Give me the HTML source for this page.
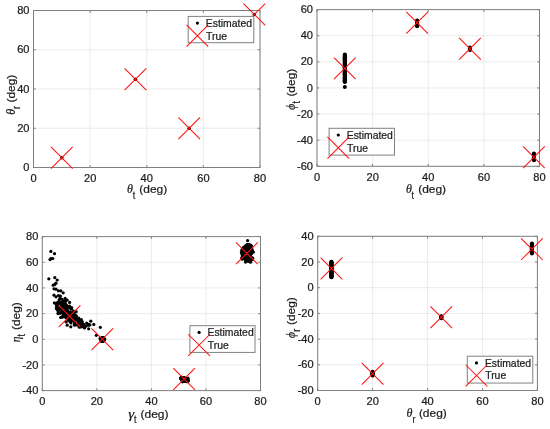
<!DOCTYPE html>
<html><head><meta charset="utf-8"><title>Figure</title>
<style>
html,body{margin:0;padding:0;background:#fff;}
svg{display:block;font-family:"Liberation Sans",sans-serif;}
text{stroke:#1c1c1c;stroke-width:0.22px}
.g{font-family:"Liberation Serif",serif;font-style:italic}
</style></head><body>
<svg width="550" height="429" viewBox="0 0 550 429">
<rect width="550" height="429" fill="#fff"/>
<g stroke="#ebebeb" stroke-width="1" fill="none">
<line x1="33.5" y1="10.5" x2="33.5" y2="167.5"/>
<line x1="90.12" y1="10.5" x2="90.12" y2="167.5"/>
<line x1="146.75" y1="10.5" x2="146.75" y2="167.5"/>
<line x1="203.38" y1="10.5" x2="203.38" y2="167.5"/>
<line x1="260" y1="10.5" x2="260" y2="167.5"/>
<line x1="33.5" y1="167.5" x2="260" y2="167.5"/>
<line x1="33.5" y1="128.25" x2="260" y2="128.25"/>
<line x1="33.5" y1="89" x2="260" y2="89"/>
<line x1="33.5" y1="49.75" x2="260" y2="49.75"/>
<line x1="33.5" y1="10.5" x2="260" y2="10.5"/>
</g>
<g stroke="#808080" stroke-width="1" fill="none">
<rect x="33.5" y="10.5" width="226.5" height="157"/>
<line x1="33.5" y1="167.5" x2="33.5" y2="165.2"/>
<line x1="33.5" y1="10.5" x2="33.5" y2="12.8"/>
<line x1="90.12" y1="167.5" x2="90.12" y2="165.2"/>
<line x1="90.12" y1="10.5" x2="90.12" y2="12.8"/>
<line x1="146.75" y1="167.5" x2="146.75" y2="165.2"/>
<line x1="146.75" y1="10.5" x2="146.75" y2="12.8"/>
<line x1="203.38" y1="167.5" x2="203.38" y2="165.2"/>
<line x1="203.38" y1="10.5" x2="203.38" y2="12.8"/>
<line x1="260" y1="167.5" x2="260" y2="165.2"/>
<line x1="260" y1="10.5" x2="260" y2="12.8"/>
<line x1="33.5" y1="167.5" x2="35.8" y2="167.5"/>
<line x1="260" y1="167.5" x2="257.7" y2="167.5"/>
<line x1="33.5" y1="128.25" x2="35.8" y2="128.25"/>
<line x1="260" y1="128.25" x2="257.7" y2="128.25"/>
<line x1="33.5" y1="89" x2="35.8" y2="89"/>
<line x1="260" y1="89" x2="257.7" y2="89"/>
<line x1="33.5" y1="49.75" x2="35.8" y2="49.75"/>
<line x1="260" y1="49.75" x2="257.7" y2="49.75"/>
<line x1="33.5" y1="10.5" x2="35.8" y2="10.5"/>
<line x1="260" y1="10.5" x2="257.7" y2="10.5"/>
</g>
<g font-size="10" fill="#1c1c1c">
<text transform="translate(33.5,181.6) scale(1.11,1)" text-anchor="middle">0</text>
<text transform="translate(90.12,181.6) scale(1.11,1)" text-anchor="middle">20</text>
<text transform="translate(146.75,181.6) scale(1.11,1)" text-anchor="middle">40</text>
<text transform="translate(203.38,181.6) scale(1.11,1)" text-anchor="middle">60</text>
<text transform="translate(260,181.6) scale(1.11,1)" text-anchor="middle">80</text>
<text transform="translate(29.5,171.1) scale(1.11,1)" text-anchor="end">0</text>
<text transform="translate(29.5,131.85) scale(1.11,1)" text-anchor="end">20</text>
<text transform="translate(29.5,92.6) scale(1.11,1)" text-anchor="end">40</text>
<text transform="translate(29.5,53.35) scale(1.11,1)" text-anchor="end">60</text>
<text transform="translate(29.5,14.1) scale(1.11,1)" text-anchor="end">80</text>
</g>
<g transform="translate(127,193.3)" fill="#1c1c1c"><text class="g" font-size="11.5" transform="scale(1.05,1)">θ</text><text transform="translate(5.7,5.8) scale(0.86,1)" font-size="10.3">t</text><text transform="translate(12.3,0) scale(1.085,1)" font-size="11">(deg)</text></g>
<g transform="translate(15,114.8) rotate(-90)" fill="#1c1c1c"><text class="g" font-size="11.5" transform="scale(1.05,1)">θ</text><text transform="translate(5.8,5.3) scale(0.86,1)" font-size="10.3">r</text><text transform="translate(12.3,0) scale(1.085,1)" font-size="11">(deg)</text></g>
<g fill="#000">
<circle cx="61.81" cy="157.69" r="1.75"/>
<circle cx="135.43" cy="79.19" r="1.75"/>
<circle cx="189.22" cy="128.25" r="1.75"/>
<circle cx="254.34" cy="14.43" r="1.75"/>
</g>
<path d="M50.96 146.84L72.66 168.54M50.96 168.54L72.66 146.84M124.58 68.34L146.28 90.04M124.58 90.04L146.28 68.34M178.37 117.4L200.07 139.1M178.37 139.1L200.07 117.4M243.49 3.58L265.19 25.28M243.49 25.28L265.19 3.58" stroke="#ff1212" stroke-width="1.05" fill="none"/>
<rect x="188.2" y="16.4" width="65.6" height="26.3" fill="#fff" stroke="#808080" stroke-width="1"/>
<circle cx="197.4" cy="23.1" r="1.6" fill="#000"/>
<g font-size="10" fill="#1c1c1c"><text transform="translate(205.8,26.9) scale(1.04,1)">Estimated</text><text transform="translate(206.1,39.6) scale(1.04,1)">True</text></g>
<path d="M186.55 24.95L208.25 46.65M186.55 46.65L208.25 24.95" stroke="#ff1212" stroke-width="1.05" fill="none"/>
<g stroke="#ebebeb" stroke-width="1" fill="none">
<line x1="317" y1="9.6" x2="317" y2="166.3"/>
<line x1="372.62" y1="9.6" x2="372.62" y2="166.3"/>
<line x1="428.25" y1="9.6" x2="428.25" y2="166.3"/>
<line x1="483.88" y1="9.6" x2="483.88" y2="166.3"/>
<line x1="539.5" y1="9.6" x2="539.5" y2="166.3"/>
<line x1="317" y1="166.3" x2="539.5" y2="166.3"/>
<line x1="317" y1="140.18" x2="539.5" y2="140.18"/>
<line x1="317" y1="114.07" x2="539.5" y2="114.07"/>
<line x1="317" y1="87.95" x2="539.5" y2="87.95"/>
<line x1="317" y1="61.83" x2="539.5" y2="61.83"/>
<line x1="317" y1="35.72" x2="539.5" y2="35.72"/>
<line x1="317" y1="9.6" x2="539.5" y2="9.6"/>
</g>
<g stroke="#808080" stroke-width="1" fill="none">
<rect x="317" y="9.6" width="222.5" height="156.7"/>
<line x1="317" y1="166.3" x2="317" y2="164"/>
<line x1="317" y1="9.6" x2="317" y2="11.9"/>
<line x1="372.62" y1="166.3" x2="372.62" y2="164"/>
<line x1="372.62" y1="9.6" x2="372.62" y2="11.9"/>
<line x1="428.25" y1="166.3" x2="428.25" y2="164"/>
<line x1="428.25" y1="9.6" x2="428.25" y2="11.9"/>
<line x1="483.88" y1="166.3" x2="483.88" y2="164"/>
<line x1="483.88" y1="9.6" x2="483.88" y2="11.9"/>
<line x1="539.5" y1="166.3" x2="539.5" y2="164"/>
<line x1="539.5" y1="9.6" x2="539.5" y2="11.9"/>
<line x1="317" y1="166.3" x2="319.3" y2="166.3"/>
<line x1="539.5" y1="166.3" x2="537.2" y2="166.3"/>
<line x1="317" y1="140.18" x2="319.3" y2="140.18"/>
<line x1="539.5" y1="140.18" x2="537.2" y2="140.18"/>
<line x1="317" y1="114.07" x2="319.3" y2="114.07"/>
<line x1="539.5" y1="114.07" x2="537.2" y2="114.07"/>
<line x1="317" y1="87.95" x2="319.3" y2="87.95"/>
<line x1="539.5" y1="87.95" x2="537.2" y2="87.95"/>
<line x1="317" y1="61.83" x2="319.3" y2="61.83"/>
<line x1="539.5" y1="61.83" x2="537.2" y2="61.83"/>
<line x1="317" y1="35.72" x2="319.3" y2="35.72"/>
<line x1="539.5" y1="35.72" x2="537.2" y2="35.72"/>
<line x1="317" y1="9.6" x2="319.3" y2="9.6"/>
<line x1="539.5" y1="9.6" x2="537.2" y2="9.6"/>
</g>
<g font-size="10" fill="#1c1c1c">
<text transform="translate(317,181.3) scale(1.11,1)" text-anchor="middle">0</text>
<text transform="translate(372.62,181.3) scale(1.11,1)" text-anchor="middle">20</text>
<text transform="translate(428.25,181.3) scale(1.11,1)" text-anchor="middle">40</text>
<text transform="translate(483.88,181.3) scale(1.11,1)" text-anchor="middle">60</text>
<text transform="translate(539.5,181.3) scale(1.11,1)" text-anchor="middle">80</text>
<text transform="translate(313,169.9) scale(1.11,1)" text-anchor="end">-60</text>
<text transform="translate(313,143.78) scale(1.11,1)" text-anchor="end">-40</text>
<text transform="translate(313,117.67) scale(1.11,1)" text-anchor="end">-20</text>
<text transform="translate(313,91.55) scale(1.11,1)" text-anchor="end">0</text>
<text transform="translate(313,65.43) scale(1.11,1)" text-anchor="end">20</text>
<text transform="translate(313,39.32) scale(1.11,1)" text-anchor="end">40</text>
<text transform="translate(313,13.2) scale(1.11,1)" text-anchor="end">60</text>
</g>
<g transform="translate(405.9,192.7)" fill="#1c1c1c"><text class="g" font-size="11.5" transform="scale(1.05,1)">θ</text><text transform="translate(5.7,5.8) scale(0.86,1)" font-size="10.3">t</text><text transform="translate(12.3,0) scale(1.085,1)" font-size="11">(deg)</text></g>
<g transform="translate(294.6,110.3) rotate(-90)" fill="#1c1c1c"><text class="g" font-size="11.5" x="0.6">ϕ</text><text transform="translate(6.9,5.8) scale(0.86,1)" font-size="10.3">t</text><text transform="translate(13.7,0) scale(1.085,1)" font-size="11">(deg)</text></g>
<g fill="#000">
<circle cx="344.81" cy="82.07" r="2.0"/>
<circle cx="344.81" cy="81.61" r="2.0"/>
<circle cx="344.81" cy="81.14" r="2.0"/>
<circle cx="344.81" cy="80.67" r="2.0"/>
<circle cx="344.81" cy="80.21" r="2.0"/>
<circle cx="344.81" cy="79.74" r="2.0"/>
<circle cx="344.81" cy="79.27" r="2.0"/>
<circle cx="344.81" cy="78.8" r="2.0"/>
<circle cx="344.81" cy="78.34" r="2.0"/>
<circle cx="344.81" cy="77.87" r="2.0"/>
<circle cx="344.81" cy="77.4" r="2.0"/>
<circle cx="344.81" cy="76.94" r="2.0"/>
<circle cx="344.81" cy="76.47" r="2.0"/>
<circle cx="344.81" cy="76" r="2.0"/>
<circle cx="344.81" cy="75.54" r="2.0"/>
<circle cx="344.81" cy="75.07" r="2.0"/>
<circle cx="344.81" cy="74.6" r="2.0"/>
<circle cx="344.81" cy="74.13" r="2.0"/>
<circle cx="344.81" cy="73.67" r="2.0"/>
<circle cx="344.81" cy="73.2" r="2.0"/>
<circle cx="344.81" cy="72.73" r="2.0"/>
<circle cx="344.81" cy="72.27" r="2.0"/>
<circle cx="344.81" cy="71.8" r="2.0"/>
<circle cx="344.81" cy="71.33" r="2.0"/>
<circle cx="344.81" cy="70.87" r="2.0"/>
<circle cx="344.81" cy="70.4" r="2.0"/>
<circle cx="344.81" cy="69.93" r="2.0"/>
<circle cx="344.81" cy="69.46" r="2.0"/>
<circle cx="344.81" cy="69" r="2.0"/>
<circle cx="344.81" cy="68.53" r="2.0"/>
<circle cx="344.81" cy="68.06" r="2.0"/>
<circle cx="344.81" cy="67.6" r="2.0"/>
<circle cx="344.81" cy="67.13" r="2.0"/>
<circle cx="344.81" cy="66.66" r="2.0"/>
<circle cx="344.81" cy="66.2" r="2.0"/>
<circle cx="344.81" cy="65.73" r="2.0"/>
<circle cx="344.81" cy="65.26" r="2.0"/>
<circle cx="344.81" cy="64.79" r="2.0"/>
<circle cx="344.81" cy="64.33" r="2.0"/>
<circle cx="344.81" cy="63.86" r="2.0"/>
<circle cx="344.81" cy="63.39" r="2.0"/>
<circle cx="344.81" cy="62.93" r="2.0"/>
<circle cx="344.81" cy="62.46" r="2.0"/>
<circle cx="344.81" cy="61.99" r="2.0"/>
<circle cx="344.81" cy="61.53" r="2.0"/>
<circle cx="344.81" cy="61.06" r="2.0"/>
<circle cx="344.81" cy="60.59" r="2.0"/>
<circle cx="344.81" cy="60.12" r="2.0"/>
<circle cx="344.81" cy="59.66" r="2.0"/>
<circle cx="344.81" cy="59.19" r="2.0"/>
<circle cx="344.81" cy="58.72" r="2.0"/>
<circle cx="344.81" cy="58.26" r="2.0"/>
<circle cx="344.81" cy="57.79" r="2.0"/>
<circle cx="344.81" cy="57.32" r="2.0"/>
<circle cx="344.81" cy="56.86" r="2.0"/>
<circle cx="344.81" cy="56.39" r="2.0"/>
<circle cx="344.81" cy="55.92" r="2.0"/>
<circle cx="344.81" cy="55.45" r="2.0"/>
<circle cx="344.81" cy="54.99" r="2.0"/>
<circle cx="344.81" cy="54.52" r="2.0"/>
<circle cx="344.81" cy="87.1" r="2.0"/>
<circle cx="417.12" cy="26.18" r="2.0"/>
<circle cx="417.12" cy="25.66" r="2.0"/>
<circle cx="417.12" cy="25.14" r="2.0"/>
<circle cx="417.12" cy="24.62" r="2.0"/>
<circle cx="417.12" cy="24.09" r="2.0"/>
<circle cx="417.12" cy="23.57" r="2.0"/>
<circle cx="417.12" cy="23.05" r="2.0"/>
<circle cx="417.12" cy="22.53" r="2.0"/>
<circle cx="417.12" cy="22.01" r="2.0"/>
<circle cx="417.12" cy="21.48" r="2.0"/>
<circle cx="417.12" cy="20.96" r="2.0"/>
<circle cx="417.12" cy="20.44" r="2.0"/>
<circle cx="469.97" cy="49.95" r="2.0"/>
<circle cx="469.97" cy="49.61" r="2.0"/>
<circle cx="469.97" cy="49.28" r="2.0"/>
<circle cx="469.97" cy="48.94" r="2.0"/>
<circle cx="469.97" cy="48.61" r="2.0"/>
<circle cx="469.97" cy="48.27" r="2.0"/>
<circle cx="469.97" cy="47.94" r="2.0"/>
<circle cx="469.97" cy="47.6" r="2.0"/>
<circle cx="533.94" cy="160.29" r="2.0"/>
<circle cx="533.94" cy="159.77" r="2.0"/>
<circle cx="533.94" cy="159.25" r="2.0"/>
<circle cx="533.94" cy="158.73" r="2.0"/>
<circle cx="533.94" cy="158.2" r="2.0"/>
<circle cx="533.94" cy="157.68" r="2.0"/>
<circle cx="533.94" cy="157.16" r="2.0"/>
<circle cx="533.94" cy="156.64" r="2.0"/>
<circle cx="533.94" cy="156.11" r="2.0"/>
<circle cx="533.94" cy="155.59" r="2.0"/>
<circle cx="533.94" cy="155.07" r="2.0"/>
<circle cx="533.94" cy="154.55" r="2.0"/>
<circle cx="533.94" cy="154.03" r="2.0"/>
<circle cx="533.94" cy="153.5" r="2.0"/>
</g>
<path d="M333.96 57.51L355.66 79.21M333.96 79.21L355.66 57.51M406.27 11.81L427.98 33.51M406.27 33.51L427.98 11.81M459.12 37.93L480.82 59.63M459.12 59.63L480.82 37.93M523.09 146.31L544.79 168.01M523.09 168.01L544.79 146.31" stroke="#ff1212" stroke-width="1.05" fill="none"/>
<rect x="329.1" y="128.3" width="65.4" height="26.8" fill="#fff" stroke="#808080" stroke-width="1"/>
<circle cx="338.3" cy="135" r="1.6" fill="#000"/>
<g font-size="10" fill="#1c1c1c"><text transform="translate(346.7,138.8) scale(1.04,1)">Estimated</text><text transform="translate(347,151.5) scale(1.04,1)">True</text></g>
<path d="M327.45 136.85L349.15 158.55M327.45 158.55L349.15 136.85" stroke="#ff1212" stroke-width="1.05" fill="none"/>
<g stroke="#ebebeb" stroke-width="1" fill="none">
<line x1="42.3" y1="236.6" x2="42.3" y2="390.6"/>
<line x1="96.85" y1="236.6" x2="96.85" y2="390.6"/>
<line x1="151.4" y1="236.6" x2="151.4" y2="390.6"/>
<line x1="205.95" y1="236.6" x2="205.95" y2="390.6"/>
<line x1="260.5" y1="236.6" x2="260.5" y2="390.6"/>
<line x1="42.3" y1="390.6" x2="260.5" y2="390.6"/>
<line x1="42.3" y1="364.93" x2="260.5" y2="364.93"/>
<line x1="42.3" y1="339.27" x2="260.5" y2="339.27"/>
<line x1="42.3" y1="313.6" x2="260.5" y2="313.6"/>
<line x1="42.3" y1="287.93" x2="260.5" y2="287.93"/>
<line x1="42.3" y1="262.27" x2="260.5" y2="262.27"/>
<line x1="42.3" y1="236.6" x2="260.5" y2="236.6"/>
</g>
<g stroke="#808080" stroke-width="1" fill="none">
<rect x="42.3" y="236.6" width="218.2" height="154"/>
<line x1="42.3" y1="390.6" x2="42.3" y2="388.3"/>
<line x1="42.3" y1="236.6" x2="42.3" y2="238.9"/>
<line x1="96.85" y1="390.6" x2="96.85" y2="388.3"/>
<line x1="96.85" y1="236.6" x2="96.85" y2="238.9"/>
<line x1="151.4" y1="390.6" x2="151.4" y2="388.3"/>
<line x1="151.4" y1="236.6" x2="151.4" y2="238.9"/>
<line x1="205.95" y1="390.6" x2="205.95" y2="388.3"/>
<line x1="205.95" y1="236.6" x2="205.95" y2="238.9"/>
<line x1="260.5" y1="390.6" x2="260.5" y2="388.3"/>
<line x1="260.5" y1="236.6" x2="260.5" y2="238.9"/>
<line x1="42.3" y1="390.6" x2="44.6" y2="390.6"/>
<line x1="260.5" y1="390.6" x2="258.2" y2="390.6"/>
<line x1="42.3" y1="364.93" x2="44.6" y2="364.93"/>
<line x1="260.5" y1="364.93" x2="258.2" y2="364.93"/>
<line x1="42.3" y1="339.27" x2="44.6" y2="339.27"/>
<line x1="260.5" y1="339.27" x2="258.2" y2="339.27"/>
<line x1="42.3" y1="313.6" x2="44.6" y2="313.6"/>
<line x1="260.5" y1="313.6" x2="258.2" y2="313.6"/>
<line x1="42.3" y1="287.93" x2="44.6" y2="287.93"/>
<line x1="260.5" y1="287.93" x2="258.2" y2="287.93"/>
<line x1="42.3" y1="262.27" x2="44.6" y2="262.27"/>
<line x1="260.5" y1="262.27" x2="258.2" y2="262.27"/>
<line x1="42.3" y1="236.6" x2="44.6" y2="236.6"/>
<line x1="260.5" y1="236.6" x2="258.2" y2="236.6"/>
</g>
<g font-size="10" fill="#1c1c1c">
<text transform="translate(42.3,405.1) scale(1.11,1)" text-anchor="middle">0</text>
<text transform="translate(96.85,405.1) scale(1.11,1)" text-anchor="middle">20</text>
<text transform="translate(151.4,405.1) scale(1.11,1)" text-anchor="middle">40</text>
<text transform="translate(205.95,405.1) scale(1.11,1)" text-anchor="middle">60</text>
<text transform="translate(260.5,405.1) scale(1.11,1)" text-anchor="middle">80</text>
<text transform="translate(38.3,394.2) scale(1.11,1)" text-anchor="end">-40</text>
<text transform="translate(38.3,368.53) scale(1.11,1)" text-anchor="end">-20</text>
<text transform="translate(38.3,342.87) scale(1.11,1)" text-anchor="end">0</text>
<text transform="translate(38.3,317.2) scale(1.11,1)" text-anchor="end">20</text>
<text transform="translate(38.3,291.53) scale(1.11,1)" text-anchor="end">40</text>
<text transform="translate(38.3,265.87) scale(1.11,1)" text-anchor="end">60</text>
<text transform="translate(38.3,240.2) scale(1.11,1)" text-anchor="end">80</text>
</g>
<g transform="translate(128.3,417.6)" fill="#1c1c1c"><text class="g" font-size="12" transform="scale(1.28,1)">γ</text><text transform="translate(5.7,5.8) scale(0.86,1)" font-size="10.3">t</text><text transform="translate(12.3,0) scale(1.085,1)" font-size="11">(deg)</text></g>
<g transform="translate(19.5,342.3) rotate(-90)" fill="#1c1c1c"><text class="g" font-size="11.5" transform="scale(1,1)">η</text><text transform="translate(5.7,5.8) scale(0.86,1)" font-size="10.3">t</text><text transform="translate(12.3,0) scale(1.085,1)" font-size="11">(deg)</text></g>
<g fill="#000">
<circle cx="62" cy="317.21" r="1.6"/>
<circle cx="65.41" cy="307.67" r="1.6"/>
<circle cx="74.79" cy="324.19" r="1.6"/>
<circle cx="79.14" cy="321.93" r="1.6"/>
<circle cx="61.05" cy="306.95" r="1.6"/>
<circle cx="71.48" cy="313.11" r="1.6"/>
<circle cx="86.09" cy="326.11" r="1.6"/>
<circle cx="67.22" cy="300.05" r="1.6"/>
<circle cx="68.56" cy="307.64" r="1.6"/>
<circle cx="65.42" cy="303.35" r="1.6"/>
<circle cx="61.23" cy="311.83" r="1.6"/>
<circle cx="69.8" cy="313.91" r="1.6"/>
<circle cx="75.73" cy="317.37" r="1.6"/>
<circle cx="69.96" cy="321.69" r="1.6"/>
<circle cx="71.11" cy="317.1" r="1.6"/>
<circle cx="79.84" cy="321.12" r="1.6"/>
<circle cx="62.71" cy="312.96" r="1.6"/>
<circle cx="66.37" cy="311.07" r="1.6"/>
<circle cx="65.41" cy="311.19" r="1.6"/>
<circle cx="74.3" cy="321.84" r="1.6"/>
<circle cx="61.27" cy="312.46" r="1.6"/>
<circle cx="66.81" cy="309.14" r="1.6"/>
<circle cx="67.68" cy="317.79" r="1.6"/>
<circle cx="61.93" cy="304.55" r="1.6"/>
<circle cx="83.26" cy="324.68" r="1.6"/>
<circle cx="59.76" cy="308.24" r="1.6"/>
<circle cx="65.78" cy="313.19" r="1.6"/>
<circle cx="79.9" cy="322.33" r="1.6"/>
<circle cx="65.04" cy="311.02" r="1.6"/>
<circle cx="88.25" cy="324.25" r="1.6"/>
<circle cx="60.1" cy="308.09" r="1.6"/>
<circle cx="70.95" cy="322.92" r="1.6"/>
<circle cx="74.54" cy="325.17" r="1.6"/>
<circle cx="77.67" cy="324.68" r="1.6"/>
<circle cx="62.96" cy="316.16" r="1.6"/>
<circle cx="57.24" cy="305.21" r="1.6"/>
<circle cx="89.94" cy="324.93" r="1.6"/>
<circle cx="64.78" cy="311.34" r="1.6"/>
<circle cx="62.77" cy="311.37" r="1.6"/>
<circle cx="56.52" cy="307.5" r="1.6"/>
<circle cx="67.87" cy="311.42" r="1.6"/>
<circle cx="68.56" cy="320.13" r="1.6"/>
<circle cx="74.72" cy="320.52" r="1.6"/>
<circle cx="65.75" cy="315.46" r="1.6"/>
<circle cx="78.36" cy="323.15" r="1.6"/>
<circle cx="58.76" cy="303.57" r="1.6"/>
<circle cx="79.87" cy="323.16" r="1.6"/>
<circle cx="81.91" cy="326.7" r="1.6"/>
<circle cx="74.5" cy="324.26" r="1.6"/>
<circle cx="63.65" cy="316.52" r="1.6"/>
<circle cx="66.88" cy="313.1" r="1.6"/>
<circle cx="78.11" cy="320.14" r="1.6"/>
<circle cx="72.28" cy="318.09" r="1.6"/>
<circle cx="70.69" cy="321.5" r="1.6"/>
<circle cx="64.7" cy="304.65" r="1.6"/>
<circle cx="61.24" cy="302.28" r="1.6"/>
<circle cx="59.96" cy="313.07" r="1.6"/>
<circle cx="69.13" cy="317.87" r="1.6"/>
<circle cx="72.42" cy="319.57" r="1.6"/>
<circle cx="79.39" cy="327.14" r="1.6"/>
<circle cx="62.32" cy="310.23" r="1.6"/>
<circle cx="84.54" cy="327.94" r="1.6"/>
<circle cx="65.74" cy="312.17" r="1.6"/>
<circle cx="63.36" cy="310.01" r="1.6"/>
<circle cx="70.48" cy="316.05" r="1.6"/>
<circle cx="81.1" cy="323.44" r="1.6"/>
<circle cx="77.35" cy="325.03" r="1.6"/>
<circle cx="71.65" cy="308.91" r="1.6"/>
<circle cx="78.45" cy="320.68" r="1.6"/>
<circle cx="74.75" cy="315.06" r="1.6"/>
<circle cx="67.65" cy="307.04" r="1.6"/>
<circle cx="64.44" cy="311.39" r="1.6"/>
<circle cx="64.32" cy="311.61" r="1.6"/>
<circle cx="59.38" cy="309.04" r="1.6"/>
<circle cx="82.21" cy="321.55" r="1.6"/>
<circle cx="70.24" cy="319.22" r="1.6"/>
<circle cx="67.09" cy="306.34" r="1.6"/>
<circle cx="62.04" cy="307.81" r="1.6"/>
<circle cx="83.92" cy="324.72" r="1.6"/>
<circle cx="71.68" cy="314.29" r="1.6"/>
<circle cx="77.98" cy="320.79" r="1.6"/>
<circle cx="73.62" cy="315.2" r="1.6"/>
<circle cx="60.15" cy="302.84" r="1.6"/>
<circle cx="83.73" cy="325.13" r="1.6"/>
<circle cx="59.53" cy="303.04" r="1.6"/>
<circle cx="60.04" cy="313.14" r="1.6"/>
<circle cx="69.07" cy="320.07" r="1.6"/>
<circle cx="67.04" cy="315" r="1.6"/>
<circle cx="61.57" cy="306.47" r="1.6"/>
<circle cx="56.69" cy="305.73" r="1.6"/>
<circle cx="70.34" cy="311.9" r="1.6"/>
<circle cx="72.24" cy="312.57" r="1.6"/>
<circle cx="61.78" cy="304.12" r="1.6"/>
<circle cx="59.13" cy="301.84" r="1.6"/>
<circle cx="64.35" cy="306.86" r="1.6"/>
<circle cx="65.48" cy="300.86" r="1.6"/>
<circle cx="56.22" cy="304.21" r="1.6"/>
<circle cx="83.04" cy="325.68" r="1.6"/>
<circle cx="66.04" cy="317.4" r="1.6"/>
<circle cx="57.97" cy="313.53" r="1.6"/>
<circle cx="81.37" cy="319.53" r="1.6"/>
<circle cx="69.58" cy="306.12" r="1.6"/>
<circle cx="63.97" cy="304.25" r="1.6"/>
<circle cx="70.85" cy="321.07" r="1.6"/>
<circle cx="78.15" cy="323.76" r="1.6"/>
<circle cx="67.69" cy="311.88" r="1.6"/>
<circle cx="64.38" cy="304.32" r="1.6"/>
<circle cx="60.61" cy="317.5" r="1.6"/>
<circle cx="75.03" cy="322.21" r="1.6"/>
<circle cx="61.42" cy="303.03" r="1.6"/>
<circle cx="76.42" cy="315.88" r="1.6"/>
<circle cx="66.34" cy="317.69" r="1.6"/>
<circle cx="73.53" cy="313.28" r="1.6"/>
<circle cx="68.43" cy="315.06" r="1.6"/>
<circle cx="77.64" cy="318.73" r="1.6"/>
<circle cx="64.42" cy="305" r="1.6"/>
<circle cx="76.14" cy="311.7" r="1.6"/>
<circle cx="88.62" cy="328.82" r="1.6"/>
<circle cx="61.18" cy="302.97" r="1.6"/>
<circle cx="75" cy="318.98" r="1.6"/>
<circle cx="63.32" cy="314.73" r="1.6"/>
<circle cx="58.12" cy="309.71" r="1.6"/>
<circle cx="88.26" cy="325.27" r="1.6"/>
<circle cx="64.16" cy="313.51" r="1.6"/>
<circle cx="66.63" cy="312.23" r="1.6"/>
<circle cx="65.32" cy="307.76" r="1.6"/>
<circle cx="56.92" cy="305.46" r="1.6"/>
<circle cx="60.31" cy="302.34" r="1.6"/>
<circle cx="58.28" cy="312.1" r="1.6"/>
<circle cx="70.75" cy="308.78" r="1.6"/>
<circle cx="78.66" cy="318.16" r="1.6"/>
<circle cx="63.65" cy="302.8" r="1.6"/>
<circle cx="59.1" cy="299.78" r="1.6"/>
<circle cx="69.69" cy="315.96" r="1.6"/>
<circle cx="73.02" cy="313.46" r="1.6"/>
<circle cx="63.71" cy="316.67" r="1.6"/>
<circle cx="83.31" cy="325.97" r="1.6"/>
<circle cx="73.77" cy="316.15" r="1.6"/>
<circle cx="81.02" cy="326.82" r="1.6"/>
<circle cx="70.43" cy="313.13" r="1.6"/>
<circle cx="68.87" cy="307.71" r="1.6"/>
<circle cx="65.81" cy="312.58" r="1.6"/>
<circle cx="57.9" cy="308.09" r="1.6"/>
<circle cx="74.12" cy="319.63" r="1.6"/>
<circle cx="56.37" cy="308.7" r="1.6"/>
<circle cx="78.55" cy="318.98" r="1.6"/>
<circle cx="65.23" cy="306.79" r="1.6"/>
<circle cx="65.1" cy="305.52" r="1.6"/>
<circle cx="61.76" cy="304.94" r="1.6"/>
<circle cx="71.63" cy="320.39" r="1.6"/>
<circle cx="69.51" cy="316.33" r="1.6"/>
<circle cx="88.74" cy="324.65" r="1.6"/>
<circle cx="63.3" cy="302.73" r="1.6"/>
<circle cx="81.77" cy="326.32" r="1.6"/>
<circle cx="74.71" cy="314.59" r="1.6"/>
<circle cx="65.35" cy="315.73" r="1.6"/>
<circle cx="70.39" cy="317.05" r="1.6"/>
<circle cx="83.93" cy="327.1" r="1.6"/>
<circle cx="62.2" cy="304.75" r="1.6"/>
<circle cx="66.08" cy="321.92" r="1.6"/>
<circle cx="68.03" cy="313.64" r="1.6"/>
<circle cx="71.47" cy="318.45" r="1.6"/>
<circle cx="86.62" cy="323.03" r="1.6"/>
<circle cx="65.08" cy="306.38" r="1.6"/>
<circle cx="64.36" cy="315.64" r="1.6"/>
<circle cx="76.85" cy="324.32" r="1.6"/>
<circle cx="62.05" cy="310.86" r="1.6"/>
<circle cx="57.75" cy="310.31" r="1.6"/>
<circle cx="74.61" cy="318.86" r="1.6"/>
<circle cx="65.68" cy="304.96" r="1.6"/>
<circle cx="57.83" cy="302.37" r="1.6"/>
<circle cx="63.08" cy="311.7" r="1.6"/>
<circle cx="76.15" cy="319.22" r="1.6"/>
<circle cx="73.47" cy="311.19" r="1.6"/>
<circle cx="64.1" cy="311.25" r="1.6"/>
<circle cx="63.55" cy="312.87" r="1.6"/>
<circle cx="73.88" cy="317.19" r="1.6"/>
<circle cx="82.85" cy="323.95" r="1.6"/>
<circle cx="61" cy="303.55" r="1.6"/>
<circle cx="63.8" cy="306.8" r="1.6"/>
<circle cx="69.28" cy="312.7" r="1.6"/>
<circle cx="67" cy="305.83" r="1.6"/>
<circle cx="79.12" cy="319.58" r="1.6"/>
<circle cx="67.11" cy="314.74" r="1.6"/>
<circle cx="80.43" cy="324.39" r="1.6"/>
<circle cx="48.8" cy="278.8" r="1.6"/>
<circle cx="54.8" cy="277.6" r="1.6"/>
<circle cx="57.2" cy="280" r="1.6"/>
<circle cx="56" cy="283.2" r="1.6"/>
<circle cx="53.2" cy="285.2" r="1.6"/>
<circle cx="54.8" cy="284.4" r="1.6"/>
<circle cx="54" cy="288.8" r="1.6"/>
<circle cx="56" cy="289.2" r="1.6"/>
<circle cx="58.4" cy="290.8" r="1.6"/>
<circle cx="60.8" cy="290.8" r="1.6"/>
<circle cx="63.2" cy="292.8" r="1.6"/>
<circle cx="54" cy="295.2" r="1.6"/>
<circle cx="56" cy="296.8" r="1.6"/>
<circle cx="58.4" cy="295.6" r="1.6"/>
<circle cx="60.4" cy="296" r="1.6"/>
<circle cx="60" cy="298.4" r="1.6"/>
<circle cx="62" cy="299.2" r="1.6"/>
<circle cx="65.2" cy="298.4" r="1.6"/>
<circle cx="63.2" cy="300.8" r="1.6"/>
<circle cx="54.4" cy="302.8" r="1.6"/>
<circle cx="57.2" cy="302.8" r="1.6"/>
<circle cx="60" cy="303.2" r="1.6"/>
<circle cx="62.4" cy="303.2" r="1.6"/>
<circle cx="64" cy="302.4" r="1.6"/>
<circle cx="69.6" cy="302.4" r="1.6"/>
<circle cx="57.2" cy="306.8" r="1.6"/>
<circle cx="66.4" cy="305.6" r="1.6"/>
<circle cx="68" cy="307.6" r="1.6"/>
<circle cx="71.6" cy="307.6" r="1.6"/>
<circle cx="64" cy="304.8" r="1.6"/>
<circle cx="61.6" cy="305.2" r="1.6"/>
<circle cx="50.9" cy="251.4" r="1.6"/>
<circle cx="54.5" cy="253.7" r="1.6"/>
<circle cx="52.8" cy="258.5" r="1.6"/>
<circle cx="50" cy="259.6" r="1.6"/>
<circle cx="50.9" cy="258.7" r="1.6"/>
<circle cx="67.2" cy="325.2" r="1.6"/>
<circle cx="70.8" cy="326.8" r="1.6"/>
<circle cx="90.8" cy="321.2" r="1.6"/>
<circle cx="93.8" cy="324.4" r="1.6"/>
<circle cx="100.3" cy="327.3" r="1.6"/>
<circle cx="96.3" cy="335.3" r="1.6"/>
<circle cx="102.02" cy="338.49" r="1.6"/>
<circle cx="101.56" cy="339.38" r="1.6"/>
<circle cx="102.15" cy="338.19" r="1.6"/>
<circle cx="102.2" cy="337.66" r="1.6"/>
<circle cx="103.69" cy="340.26" r="1.6"/>
<circle cx="103.31" cy="338.15" r="1.6"/>
<circle cx="100.91" cy="339.78" r="1.6"/>
<circle cx="100.22" cy="338.14" r="1.6"/>
<circle cx="102.57" cy="339.83" r="1.6"/>
<circle cx="102.52" cy="337.72" r="1.6"/>
<circle cx="103.66" cy="338.26" r="1.6"/>
<circle cx="102.39" cy="338.26" r="1.6"/>
<circle cx="104.43" cy="339.43" r="1.6"/>
<circle cx="102.28" cy="338.14" r="1.6"/>
<circle cx="100.67" cy="339.52" r="1.6"/>
<circle cx="102.4" cy="341.23" r="1.6"/>
<circle cx="101.17" cy="338.83" r="1.6"/>
<circle cx="103.72" cy="340.31" r="1.6"/>
<circle cx="101.48" cy="341.12" r="1.6"/>
<circle cx="103.03" cy="340.41" r="1.6"/>
<circle cx="102.86" cy="340.51" r="1.6"/>
<circle cx="101.83" cy="339.03" r="1.6"/>
<circle cx="103.86" cy="339.78" r="1.6"/>
<circle cx="102.88" cy="340.71" r="1.6"/>
<circle cx="102.71" cy="339.8" r="1.6"/>
<circle cx="103.5" cy="338.19" r="1.6"/>
<circle cx="102" cy="339.58" r="1.6"/>
<circle cx="102.21" cy="340.37" r="1.6"/>
<circle cx="103.03" cy="339.08" r="1.6"/>
<circle cx="103.86" cy="338.84" r="1.6"/>
<circle cx="101.44" cy="339.69" r="1.6"/>
<circle cx="103.24" cy="339.11" r="1.6"/>
<circle cx="100.95" cy="338.65" r="1.6"/>
<circle cx="102.7" cy="340.14" r="1.6"/>
<circle cx="104.78" cy="339.1" r="1.6"/>
<circle cx="104.11" cy="340.43" r="1.6"/>
<circle cx="102.4" cy="338.41" r="1.6"/>
<circle cx="101.34" cy="341.18" r="1.6"/>
<circle cx="103.42" cy="340.9" r="1.6"/>
<circle cx="102.2" cy="340.78" r="1.6"/>
<circle cx="102.35" cy="337.82" r="1.6"/>
<circle cx="101.85" cy="338.08" r="1.6"/>
<circle cx="102.75" cy="338.39" r="1.6"/>
<circle cx="100.68" cy="338.85" r="1.6"/>
<circle cx="102.08" cy="339.55" r="1.6"/>
<circle cx="103.33" cy="340.87" r="1.6"/>
<circle cx="102.95" cy="341.34" r="1.6"/>
<circle cx="103.66" cy="337.65" r="1.6"/>
<circle cx="102.12" cy="339.57" r="1.6"/>
<circle cx="100.31" cy="338.58" r="1.6"/>
<circle cx="103.2" cy="338.9" r="1.6"/>
<circle cx="102.3" cy="337.86" r="1.6"/>
<circle cx="102.34" cy="338.59" r="1.6"/>
<circle cx="100.47" cy="338.79" r="1.6"/>
<circle cx="101.76" cy="338.85" r="1.6"/>
<circle cx="103.63" cy="340.63" r="1.6"/>
<circle cx="102.95" cy="338.85" r="1.6"/>
<circle cx="102.96" cy="339.32" r="1.6"/>
<circle cx="102.69" cy="338.09" r="1.6"/>
<circle cx="101.59" cy="338.67" r="1.6"/>
<circle cx="183.95" cy="379.41" r="1.6"/>
<circle cx="183.18" cy="381.4" r="1.6"/>
<circle cx="184.33" cy="379.85" r="1.6"/>
<circle cx="181.61" cy="378.99" r="1.6"/>
<circle cx="185.23" cy="379.58" r="1.6"/>
<circle cx="184.86" cy="378.38" r="1.6"/>
<circle cx="185" cy="378.29" r="1.6"/>
<circle cx="182.81" cy="378.28" r="1.6"/>
<circle cx="184.47" cy="381.02" r="1.6"/>
<circle cx="184.77" cy="378.45" r="1.6"/>
<circle cx="184.35" cy="380.93" r="1.6"/>
<circle cx="185.94" cy="380.46" r="1.6"/>
<circle cx="180.96" cy="378.29" r="1.6"/>
<circle cx="182.17" cy="378.58" r="1.6"/>
<circle cx="184.62" cy="379.64" r="1.6"/>
<circle cx="183.05" cy="380.1" r="1.6"/>
<circle cx="182.08" cy="378.76" r="1.6"/>
<circle cx="184.27" cy="377.74" r="1.6"/>
<circle cx="181.7" cy="377.29" r="1.6"/>
<circle cx="181.18" cy="378.87" r="1.6"/>
<circle cx="183.65" cy="379.9" r="1.6"/>
<circle cx="184.88" cy="378.12" r="1.6"/>
<circle cx="180.72" cy="378.07" r="1.6"/>
<circle cx="182.7" cy="379.56" r="1.6"/>
<circle cx="185.64" cy="379.75" r="1.6"/>
<circle cx="186.29" cy="380.95" r="1.6"/>
<circle cx="181.98" cy="379.31" r="1.6"/>
<circle cx="186.48" cy="379.26" r="1.6"/>
<circle cx="187.05" cy="380.08" r="1.6"/>
<circle cx="188.24" cy="380.22" r="1.6"/>
<circle cx="187.99" cy="377.99" r="1.6"/>
<circle cx="187.87" cy="380.7" r="1.6"/>
<circle cx="182.97" cy="380.76" r="1.6"/>
<circle cx="183.28" cy="380.47" r="1.6"/>
<circle cx="186.54" cy="381.28" r="1.6"/>
<circle cx="184.4" cy="380.08" r="1.6"/>
<circle cx="183.89" cy="377.84" r="1.6"/>
<circle cx="184.38" cy="377.98" r="1.6"/>
<circle cx="183.23" cy="378.98" r="1.6"/>
<circle cx="182.51" cy="377.85" r="1.6"/>
<circle cx="184.29" cy="379.51" r="1.6"/>
<circle cx="187.69" cy="380.91" r="1.6"/>
<circle cx="186.53" cy="379.27" r="1.6"/>
<circle cx="183.16" cy="377.71" r="1.6"/>
<circle cx="181.66" cy="380.08" r="1.6"/>
<circle cx="183.48" cy="379.23" r="1.6"/>
<circle cx="182.49" cy="381.32" r="1.6"/>
<circle cx="183.84" cy="380.99" r="1.6"/>
<circle cx="183.89" cy="380.74" r="1.6"/>
<circle cx="181.39" cy="377.31" r="1.6"/>
<circle cx="186.96" cy="379.55" r="1.6"/>
<circle cx="184.72" cy="380.77" r="1.6"/>
<circle cx="185.86" cy="380.15" r="1.6"/>
<circle cx="180.8" cy="378.07" r="1.6"/>
<circle cx="184.09" cy="380.36" r="1.6"/>
<circle cx="185.38" cy="380.2" r="1.6"/>
<circle cx="181.93" cy="379.17" r="1.6"/>
<circle cx="186.59" cy="378.75" r="1.6"/>
<circle cx="182.46" cy="380.46" r="1.6"/>
<circle cx="188.25" cy="380.7" r="1.6"/>
<circle cx="184.02" cy="378.23" r="1.6"/>
<circle cx="183.67" cy="378.4" r="1.6"/>
<circle cx="184.37" cy="380.5" r="1.6"/>
<circle cx="185.21" cy="381.41" r="1.6"/>
<circle cx="181.27" cy="377.4" r="1.6"/>
<circle cx="187.66" cy="381.45" r="1.6"/>
<circle cx="181.39" cy="379.27" r="1.6"/>
<circle cx="181.13" cy="379.03" r="1.6"/>
<circle cx="184.84" cy="380.9" r="1.6"/>
<circle cx="181.4" cy="377.41" r="1.6"/>
<circle cx="185.53" cy="379.29" r="1.6"/>
<circle cx="187.75" cy="378.57" r="1.6"/>
<circle cx="187.03" cy="381.73" r="1.6"/>
<circle cx="185.11" cy="379.27" r="1.6"/>
<circle cx="182.58" cy="381.81" r="1.6"/>
<circle cx="186.4" cy="379.08" r="1.6"/>
<circle cx="185.15" cy="380.42" r="1.6"/>
<circle cx="185.36" cy="378.49" r="1.6"/>
<circle cx="182.83" cy="380.64" r="1.6"/>
<circle cx="185.86" cy="379.34" r="1.6"/>
<circle cx="245.99" cy="257.62" r="1.6"/>
<circle cx="249.61" cy="252.71" r="1.6"/>
<circle cx="252.59" cy="258.45" r="1.6"/>
<circle cx="247.28" cy="256.69" r="1.6"/>
<circle cx="249.2" cy="251.98" r="1.6"/>
<circle cx="249.4" cy="250.79" r="1.6"/>
<circle cx="246.51" cy="256.46" r="1.6"/>
<circle cx="243.49" cy="251.68" r="1.6"/>
<circle cx="244.33" cy="256.71" r="1.6"/>
<circle cx="245.5" cy="262.04" r="1.6"/>
<circle cx="251.79" cy="250.06" r="1.6"/>
<circle cx="247.69" cy="251.64" r="1.6"/>
<circle cx="247.2" cy="256.54" r="1.6"/>
<circle cx="245.8" cy="252.45" r="1.6"/>
<circle cx="246.28" cy="254.02" r="1.6"/>
<circle cx="249.15" cy="251.17" r="1.6"/>
<circle cx="245.54" cy="259.88" r="1.6"/>
<circle cx="252.23" cy="259.68" r="1.6"/>
<circle cx="244.98" cy="255.93" r="1.6"/>
<circle cx="244.92" cy="247.99" r="1.6"/>
<circle cx="247.19" cy="255.77" r="1.6"/>
<circle cx="246.6" cy="252.81" r="1.6"/>
<circle cx="249.1" cy="250.12" r="1.6"/>
<circle cx="248.49" cy="257.04" r="1.6"/>
<circle cx="249.18" cy="256.05" r="1.6"/>
<circle cx="244.25" cy="251.98" r="1.6"/>
<circle cx="245.94" cy="256.73" r="1.6"/>
<circle cx="242.01" cy="254.01" r="1.6"/>
<circle cx="242.46" cy="256.43" r="1.6"/>
<circle cx="245.69" cy="253.56" r="1.6"/>
<circle cx="250" cy="261.47" r="1.6"/>
<circle cx="244.28" cy="253.91" r="1.6"/>
<circle cx="241.42" cy="252.39" r="1.6"/>
<circle cx="245.19" cy="256.51" r="1.6"/>
<circle cx="246.91" cy="253.83" r="1.6"/>
<circle cx="243.91" cy="251.78" r="1.6"/>
<circle cx="243.91" cy="253.44" r="1.6"/>
<circle cx="242.51" cy="254.61" r="1.6"/>
<circle cx="251.72" cy="259.65" r="1.6"/>
<circle cx="249.62" cy="260.92" r="1.6"/>
<circle cx="247.12" cy="255.23" r="1.6"/>
<circle cx="241.65" cy="250.98" r="1.6"/>
<circle cx="250.67" cy="245.19" r="1.6"/>
<circle cx="248.18" cy="253.1" r="1.6"/>
<circle cx="246.17" cy="254.87" r="1.6"/>
<circle cx="247.31" cy="248.04" r="1.6"/>
<circle cx="247" cy="244.75" r="1.6"/>
<circle cx="251.71" cy="253.25" r="1.6"/>
<circle cx="249.88" cy="249.03" r="1.6"/>
<circle cx="252.72" cy="258.21" r="1.6"/>
<circle cx="248.27" cy="254.4" r="1.6"/>
<circle cx="248.38" cy="249.89" r="1.6"/>
<circle cx="246.82" cy="252.31" r="1.6"/>
<circle cx="248.36" cy="260.68" r="1.6"/>
<circle cx="250.69" cy="254.65" r="1.6"/>
<circle cx="249.13" cy="252.02" r="1.6"/>
<circle cx="245.81" cy="245.7" r="1.6"/>
<circle cx="243.47" cy="247.7" r="1.6"/>
<circle cx="247.04" cy="252.53" r="1.6"/>
<circle cx="248.53" cy="258.86" r="1.6"/>
<circle cx="249.26" cy="252.67" r="1.6"/>
<circle cx="245.86" cy="251.99" r="1.6"/>
<circle cx="249.06" cy="249.02" r="1.6"/>
<circle cx="242.78" cy="252.32" r="1.6"/>
<circle cx="250.37" cy="259.17" r="1.6"/>
<circle cx="249.03" cy="244.25" r="1.6"/>
<circle cx="246.77" cy="256.74" r="1.6"/>
<circle cx="250.47" cy="262.15" r="1.6"/>
<circle cx="244.44" cy="255.11" r="1.6"/>
<circle cx="242.59" cy="252.35" r="1.6"/>
<circle cx="246.07" cy="257.25" r="1.6"/>
<circle cx="247.73" cy="245.03" r="1.6"/>
<circle cx="246.87" cy="255.1" r="1.6"/>
<circle cx="251.57" cy="249.91" r="1.6"/>
<circle cx="244.66" cy="250.57" r="1.6"/>
<circle cx="250.28" cy="252" r="1.6"/>
<circle cx="247.49" cy="255.46" r="1.6"/>
<circle cx="244.79" cy="258.54" r="1.6"/>
<circle cx="245.24" cy="249" r="1.6"/>
<circle cx="245.03" cy="247.79" r="1.6"/>
<circle cx="244.61" cy="249.52" r="1.6"/>
<circle cx="243.75" cy="252.5" r="1.6"/>
<circle cx="248.16" cy="250.57" r="1.6"/>
<circle cx="247.76" cy="249.36" r="1.6"/>
<circle cx="247.88" cy="251.78" r="1.6"/>
<circle cx="243.97" cy="253.79" r="1.6"/>
<circle cx="246.72" cy="250.17" r="1.6"/>
<circle cx="247.07" cy="255.86" r="1.6"/>
<circle cx="243.56" cy="250.93" r="1.6"/>
<circle cx="249.08" cy="253.31" r="1.6"/>
<circle cx="243.48" cy="255.03" r="1.6"/>
<circle cx="246.11" cy="260.13" r="1.6"/>
<circle cx="248.92" cy="246.69" r="1.6"/>
<circle cx="250.43" cy="253.35" r="1.6"/>
<circle cx="246.3" cy="253.4" r="1.6"/>
<circle cx="247.85" cy="249.23" r="1.6"/>
<circle cx="246.07" cy="259.78" r="1.6"/>
<circle cx="244.17" cy="250.44" r="1.6"/>
<circle cx="249.5" cy="248.81" r="1.6"/>
<circle cx="246.6" cy="254.76" r="1.6"/>
<circle cx="244.5" cy="251.81" r="1.6"/>
<circle cx="244.5" cy="252.29" r="1.6"/>
<circle cx="248.03" cy="253.36" r="1.6"/>
<circle cx="247.93" cy="255.08" r="1.6"/>
<circle cx="249.55" cy="248.21" r="1.6"/>
<circle cx="247.54" cy="260.84" r="1.6"/>
<circle cx="246.49" cy="252.02" r="1.6"/>
<circle cx="247.22" cy="249.84" r="1.6"/>
<circle cx="248.86" cy="253.26" r="1.6"/>
<circle cx="246.69" cy="256.84" r="1.6"/>
<circle cx="250.79" cy="246.54" r="1.6"/>
<circle cx="245.7" cy="252" r="1.6"/>
<circle cx="242.99" cy="256.54" r="1.6"/>
<circle cx="245.88" cy="246.99" r="1.6"/>
<circle cx="249.54" cy="252.71" r="1.6"/>
<circle cx="246.67" cy="255.61" r="1.6"/>
<circle cx="249.47" cy="261.08" r="1.6"/>
<circle cx="251.29" cy="257.76" r="1.6"/>
<circle cx="242.31" cy="259.27" r="1.6"/>
<circle cx="247.48" cy="246" r="1.6"/>
<circle cx="247.7" cy="252.13" r="1.6"/>
<circle cx="246.92" cy="257.88" r="1.6"/>
<circle cx="243.16" cy="256.37" r="1.6"/>
<circle cx="250.77" cy="247.88" r="1.6"/>
<circle cx="251.37" cy="250.09" r="1.6"/>
<circle cx="244.98" cy="257.78" r="1.6"/>
<circle cx="247.15" cy="244.48" r="1.6"/>
<circle cx="245.28" cy="256.58" r="1.6"/>
<circle cx="245.58" cy="251.02" r="1.6"/>
<circle cx="247.23" cy="253.26" r="1.6"/>
<circle cx="245.14" cy="248.85" r="1.6"/>
<circle cx="248.52" cy="259.17" r="1.6"/>
<circle cx="250.18" cy="249.07" r="1.6"/>
<circle cx="251.5" cy="246.1" r="1.6"/>
<circle cx="250.06" cy="261.05" r="1.6"/>
<circle cx="247.38" cy="248.52" r="1.6"/>
<circle cx="248.38" cy="260.02" r="1.6"/>
<circle cx="248.43" cy="261.13" r="1.6"/>
<circle cx="242.19" cy="249.26" r="1.6"/>
<circle cx="245.62" cy="256.5" r="1.6"/>
<circle cx="250.85" cy="249.3" r="1.6"/>
<circle cx="244.42" cy="257.56" r="1.6"/>
<circle cx="243.24" cy="256.01" r="1.6"/>
<circle cx="244.75" cy="252.89" r="1.6"/>
<circle cx="253.39" cy="252.03" r="1.6"/>
<circle cx="247.33" cy="249.43" r="1.6"/>
<circle cx="248.87" cy="260.61" r="1.6"/>
<circle cx="249.12" cy="247.03" r="1.6"/>
<circle cx="248.29" cy="260.76" r="1.6"/>
<circle cx="244.33" cy="252.63" r="1.6"/>
<circle cx="244.42" cy="250.52" r="1.6"/>
<circle cx="244.23" cy="246.85" r="1.6"/>
<circle cx="248.65" cy="253.05" r="1.6"/>
<circle cx="245.02" cy="248.03" r="1.6"/>
<circle cx="247.66" cy="252.33" r="1.6"/>
<circle cx="248.31" cy="246.83" r="1.6"/>
<circle cx="244.97" cy="251.21" r="1.6"/>
<circle cx="246.06" cy="251.61" r="1.6"/>
<circle cx="244.91" cy="252.71" r="1.6"/>
<circle cx="252.13" cy="249.69" r="1.6"/>
<circle cx="242.24" cy="254.67" r="1.6"/>
<circle cx="244.46" cy="257.17" r="1.6"/>
<circle cx="250.33" cy="261.35" r="1.6"/>
<circle cx="247.65" cy="245.22" r="1.6"/>
<circle cx="252.01" cy="257.74" r="1.6"/>
<circle cx="251.06" cy="253.77" r="1.6"/>
<circle cx="246.15" cy="253.43" r="1.6"/>
<circle cx="241.68" cy="258.03" r="1.6"/>
<circle cx="245.35" cy="250.36" r="1.6"/>
<circle cx="248.31" cy="249.16" r="1.6"/>
<circle cx="247.6" cy="240.6" r="1.6"/>
</g>
<path d="M58.72 305.32L80.42 327.02M58.72 327.02L80.42 305.32M91.46 328.42L113.16 350.12M91.46 350.12L113.16 328.42M173.28 368.2L194.98 389.9M173.28 389.9L194.98 368.2M236.01 242.43L257.71 264.13M236.01 264.13L257.71 242.43" stroke="#ff1212" stroke-width="1.05" fill="none"/>
<rect x="189.9" y="325.7" width="65.1" height="26.7" fill="#fff" stroke="#808080" stroke-width="1"/>
<circle cx="199.1" cy="332.4" r="1.6" fill="#000"/>
<g font-size="10" fill="#1c1c1c"><text transform="translate(207.5,336.2) scale(1.04,1)">Estimated</text><text transform="translate(207.8,348.9) scale(1.04,1)">True</text></g>
<path d="M188.25 334.25L209.95 355.95M188.25 355.95L209.95 334.25" stroke="#ff1212" stroke-width="1.05" fill="none"/>
<g stroke="#ebebeb" stroke-width="1" fill="none">
<line x1="317.7" y1="236.3" x2="317.7" y2="390.5"/>
<line x1="372.62" y1="236.3" x2="372.62" y2="390.5"/>
<line x1="427.55" y1="236.3" x2="427.55" y2="390.5"/>
<line x1="482.47" y1="236.3" x2="482.47" y2="390.5"/>
<line x1="537.4" y1="236.3" x2="537.4" y2="390.5"/>
<line x1="317.7" y1="390.5" x2="537.4" y2="390.5"/>
<line x1="317.7" y1="364.8" x2="537.4" y2="364.8"/>
<line x1="317.7" y1="339.1" x2="537.4" y2="339.1"/>
<line x1="317.7" y1="313.4" x2="537.4" y2="313.4"/>
<line x1="317.7" y1="287.7" x2="537.4" y2="287.7"/>
<line x1="317.7" y1="262" x2="537.4" y2="262"/>
<line x1="317.7" y1="236.3" x2="537.4" y2="236.3"/>
</g>
<g stroke="#808080" stroke-width="1" fill="none">
<rect x="317.7" y="236.3" width="219.7" height="154.2"/>
<line x1="317.7" y1="390.5" x2="317.7" y2="388.2"/>
<line x1="317.7" y1="236.3" x2="317.7" y2="238.6"/>
<line x1="372.62" y1="390.5" x2="372.62" y2="388.2"/>
<line x1="372.62" y1="236.3" x2="372.62" y2="238.6"/>
<line x1="427.55" y1="390.5" x2="427.55" y2="388.2"/>
<line x1="427.55" y1="236.3" x2="427.55" y2="238.6"/>
<line x1="482.47" y1="390.5" x2="482.47" y2="388.2"/>
<line x1="482.47" y1="236.3" x2="482.47" y2="238.6"/>
<line x1="537.4" y1="390.5" x2="537.4" y2="388.2"/>
<line x1="537.4" y1="236.3" x2="537.4" y2="238.6"/>
<line x1="317.7" y1="390.5" x2="320" y2="390.5"/>
<line x1="537.4" y1="390.5" x2="535.1" y2="390.5"/>
<line x1="317.7" y1="364.8" x2="320" y2="364.8"/>
<line x1="537.4" y1="364.8" x2="535.1" y2="364.8"/>
<line x1="317.7" y1="339.1" x2="320" y2="339.1"/>
<line x1="537.4" y1="339.1" x2="535.1" y2="339.1"/>
<line x1="317.7" y1="313.4" x2="320" y2="313.4"/>
<line x1="537.4" y1="313.4" x2="535.1" y2="313.4"/>
<line x1="317.7" y1="287.7" x2="320" y2="287.7"/>
<line x1="537.4" y1="287.7" x2="535.1" y2="287.7"/>
<line x1="317.7" y1="262" x2="320" y2="262"/>
<line x1="537.4" y1="262" x2="535.1" y2="262"/>
<line x1="317.7" y1="236.3" x2="320" y2="236.3"/>
<line x1="537.4" y1="236.3" x2="535.1" y2="236.3"/>
</g>
<g font-size="10" fill="#1c1c1c">
<text transform="translate(317.7,405.1) scale(1.11,1)" text-anchor="middle">0</text>
<text transform="translate(372.62,405.1) scale(1.11,1)" text-anchor="middle">20</text>
<text transform="translate(427.55,405.1) scale(1.11,1)" text-anchor="middle">40</text>
<text transform="translate(482.47,405.1) scale(1.11,1)" text-anchor="middle">60</text>
<text transform="translate(537.4,405.1) scale(1.11,1)" text-anchor="middle">80</text>
<text transform="translate(313.7,394.1) scale(1.11,1)" text-anchor="end">-80</text>
<text transform="translate(313.7,368.4) scale(1.11,1)" text-anchor="end">-60</text>
<text transform="translate(313.7,342.7) scale(1.11,1)" text-anchor="end">-40</text>
<text transform="translate(313.7,317) scale(1.11,1)" text-anchor="end">-20</text>
<text transform="translate(313.7,291.3) scale(1.11,1)" text-anchor="end">0</text>
<text transform="translate(313.7,265.6) scale(1.11,1)" text-anchor="end">20</text>
<text transform="translate(313.7,239.9) scale(1.11,1)" text-anchor="end">40</text>
</g>
<g transform="translate(406.6,417.4)" fill="#1c1c1c"><text class="g" font-size="11.5" transform="scale(1.05,1)">θ</text><text transform="translate(5.8,5.3) scale(0.86,1)" font-size="10.3">r</text><text transform="translate(12.3,0) scale(1.085,1)" font-size="11">(deg)</text></g>
<g transform="translate(294.6,338.7) rotate(-90)" fill="#1c1c1c"><text class="g" font-size="11.5" x="0.6">ϕ</text><text transform="translate(7,5.3) scale(0.86,1)" font-size="10.3">r</text><text transform="translate(13.7,0) scale(1.085,1)" font-size="11">(deg)</text></g>
<g fill="#000">
<circle cx="331.43" cy="277.29" r="2.05"/>
<circle cx="331.43" cy="276.89" r="2.05"/>
<circle cx="331.43" cy="276.49" r="2.05"/>
<circle cx="331.43" cy="276.1" r="2.05"/>
<circle cx="331.43" cy="275.7" r="2.05"/>
<circle cx="331.43" cy="275.3" r="2.05"/>
<circle cx="331.43" cy="274.9" r="2.05"/>
<circle cx="331.43" cy="274.5" r="2.05"/>
<circle cx="331.43" cy="274.1" r="2.05"/>
<circle cx="331.43" cy="273.7" r="2.05"/>
<circle cx="331.43" cy="273.3" r="2.05"/>
<circle cx="331.43" cy="272.91" r="2.05"/>
<circle cx="331.43" cy="272.51" r="2.05"/>
<circle cx="331.43" cy="272.11" r="2.05"/>
<circle cx="331.43" cy="271.71" r="2.05"/>
<circle cx="331.43" cy="271.31" r="2.05"/>
<circle cx="331.43" cy="270.91" r="2.05"/>
<circle cx="331.43" cy="270.51" r="2.05"/>
<circle cx="331.43" cy="270.12" r="2.05"/>
<circle cx="331.43" cy="269.72" r="2.05"/>
<circle cx="331.43" cy="269.32" r="2.05"/>
<circle cx="331.43" cy="268.92" r="2.05"/>
<circle cx="331.43" cy="268.52" r="2.05"/>
<circle cx="331.43" cy="268.12" r="2.05"/>
<circle cx="331.43" cy="267.72" r="2.05"/>
<circle cx="331.43" cy="267.32" r="2.05"/>
<circle cx="331.43" cy="266.93" r="2.05"/>
<circle cx="331.43" cy="266.53" r="2.05"/>
<circle cx="331.43" cy="266.13" r="2.05"/>
<circle cx="331.43" cy="265.73" r="2.05"/>
<circle cx="331.43" cy="265.33" r="2.05"/>
<circle cx="331.43" cy="264.93" r="2.05"/>
<circle cx="331.43" cy="264.53" r="2.05"/>
<circle cx="331.43" cy="264.14" r="2.05"/>
<circle cx="331.43" cy="263.74" r="2.05"/>
<circle cx="331.43" cy="263.34" r="2.05"/>
<circle cx="331.43" cy="262.94" r="2.05"/>
<circle cx="331.43" cy="262.54" r="2.05"/>
<circle cx="331.43" cy="262.14" r="2.05"/>
<circle cx="331.43" cy="261.74" r="2.05"/>
<circle cx="372.62" cy="375.47" r="2.05"/>
<circle cx="372.62" cy="375.07" r="2.05"/>
<circle cx="372.62" cy="374.67" r="2.05"/>
<circle cx="372.62" cy="374.27" r="2.05"/>
<circle cx="372.62" cy="373.87" r="2.05"/>
<circle cx="372.62" cy="373.47" r="2.05"/>
<circle cx="372.62" cy="373.07" r="2.05"/>
<circle cx="372.62" cy="372.67" r="2.05"/>
<circle cx="372.62" cy="372.27" r="2.05"/>
<circle cx="372.62" cy="371.87" r="2.05"/>
<circle cx="441.28" cy="318.15" r="2.05"/>
<circle cx="441.28" cy="317.79" r="2.05"/>
<circle cx="441.28" cy="317.43" r="2.05"/>
<circle cx="441.28" cy="317.08" r="2.05"/>
<circle cx="441.28" cy="316.72" r="2.05"/>
<circle cx="441.28" cy="316.36" r="2.05"/>
<circle cx="531.91" cy="253.39" r="2.05"/>
<circle cx="531.91" cy="252.87" r="2.05"/>
<circle cx="531.91" cy="252.34" r="2.05"/>
<circle cx="531.91" cy="251.82" r="2.05"/>
<circle cx="531.91" cy="251.29" r="2.05"/>
<circle cx="531.91" cy="250.77" r="2.05"/>
<circle cx="531.91" cy="250.25" r="2.05"/>
<circle cx="531.91" cy="249.72" r="2.05"/>
<circle cx="531.91" cy="249.2" r="2.05"/>
<circle cx="531.91" cy="248.67" r="2.05"/>
<circle cx="531.91" cy="248.15" r="2.05"/>
<circle cx="531.91" cy="247.62" r="2.05"/>
<circle cx="531.91" cy="247.1" r="2.05"/>
<circle cx="531.91" cy="246.58" r="2.05"/>
<circle cx="531.91" cy="246.05" r="2.05"/>
<circle cx="531.91" cy="245.53" r="2.05"/>
<circle cx="531.91" cy="245" r="2.05"/>
<circle cx="531.91" cy="244.48" r="2.05"/>
<circle cx="531.91" cy="243.96" r="2.05"/>
<circle cx="531.91" cy="243.43" r="2.05"/>
</g>
<path d="M320.58 257.57L342.28 279.28M320.58 279.28L342.28 257.57M361.77 362.94L383.48 384.65M361.77 384.65L383.48 362.94M430.43 306.4L452.13 328.11M430.43 328.11L452.13 306.4M521.06 238.3L542.76 260M521.06 260L542.76 238.3" stroke="#ff1212" stroke-width="1.05" fill="none"/>
<rect x="467.3" y="356.2" width="65.5" height="26.85" fill="#fff" stroke="#808080" stroke-width="1"/>
<circle cx="476.5" cy="362.9" r="1.6" fill="#000"/>
<g font-size="10" fill="#1c1c1c"><text transform="translate(484.9,366.7) scale(1.04,1)">Estimated</text><text transform="translate(485.2,379.4) scale(1.04,1)">True</text></g>
<path d="M465.65 364.75L487.35 386.45M465.65 386.45L487.35 364.75" stroke="#ff1212" stroke-width="1.05" fill="none"/>
</svg>
</body></html>
